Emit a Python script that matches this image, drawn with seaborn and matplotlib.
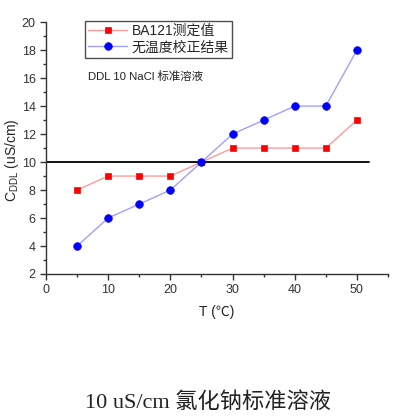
import matplotlib
matplotlib.use("Agg")
import matplotlib.pyplot as plt
import seaborn as sns
import pandas as pd
from matplotlib.ticker import MultipleLocator

temps = [5, 10, 15, 20, 25, 30, 35, 40, 45, 50]
ba121 = [8, 9, 9, 9, 10, 11, 11, 11, 11, 13]
uncorrected = [4, 6, 7, 8, 10, 12, 13, 14, 14, 18]
ref_x = [0, 52]
ref_y = [10, 10]
label_red = "BA121测定值"
label_blue = "无温度校正结果"
note = "DDL 10 NaCl 标准溶液"
caption = "10 uS/cm 氯化钠标准溶液"

sns.set_style("ticks")
plt.rcParams["font.family"] = ["Liberation Sans", "Noto Sans CJK SC", "DejaVu Sans"]
plt.rcParams["mathtext.fontset"] = "custom"
plt.rcParams["mathtext.rm"] = "Liberation Sans"

df_red = pd.DataFrame({"T": temps, "C": ba121})
df_blue = pd.DataFrame({"T": temps, "C": uncorrected})

fig = plt.figure(figsize=(4.0, 4.18), dpi=100)
ax = fig.add_axes([0.115, 0.3445, 0.855, 0.6025])

ax.plot(ref_x, ref_y, color="black", lw=1.3, zorder=1)

sns.lineplot(data=df_red, x="T", y="C", ax=ax, color="#ff9a9a", lw=1.0,
             marker="s", markersize=5, markerfacecolor="#ff0000",
             markeredgecolor="#ff0000", markeredgewidth=0.5, label=label_red, zorder=3)
sns.lineplot(data=df_blue, x="T", y="C", ax=ax, color="#a0a0ff", lw=1.0,
             marker="o", markersize=5.5, markerfacecolor="#0000ff",
             markeredgecolor="#0000ff", markeredgewidth=0.5, label=label_blue, zorder=3)

ax.set_xlim(0, 55)
ax.set_ylim(2, 20)
ax.xaxis.set_major_locator(MultipleLocator(10))
ax.xaxis.set_minor_locator(MultipleLocator(5))
ax.yaxis.set_major_locator(MultipleLocator(2))
ax.yaxis.set_minor_locator(MultipleLocator(1))
ax.tick_params(which="major", direction="out", length=4, width=1, labelsize=9,
               colors="#333333")
ax.tick_params(which="minor", direction="out", length=2.5, width=1, colors="#333333")
for s in ["top", "right"]:
    ax.spines[s].set_visible(False)
for s in ["left", "bottom"]:
    ax.spines[s].set_color("#333333")
    ax.spines[s].set_linewidth(1)

ax.set_xlabel("T (℃)", fontsize=10, labelpad=6)
ax.set_ylabel(r"C$_{\mathrm{DDL}}$ (uS/cm)", fontsize=10)
ax.yaxis.set_label_coords(-0.072, 0.45)

leg = ax.legend(loc="upper left", bbox_to_anchor=(0.114, 1.006), borderaxespad=0,
                fontsize=10, handlelength=2.8, frameon=True, fancybox=False,
                borderpad=0.25, labelspacing=0.15, handletextpad=0.3)
leg.get_frame().set_edgecolor("#222222")
leg.get_frame().set_linewidth(1.0)

ax.text(6.8, 16.1, note, fontsize=8.2, va="center", ha="left", color="#222222")

fig.text(0.52, 0.038, caption, fontsize=16, ha="center", va="center",
         family=["Liberation Serif", "Noto Sans CJK SC"], color="#222222")

fig.savefig("out.png", dpi=100)
